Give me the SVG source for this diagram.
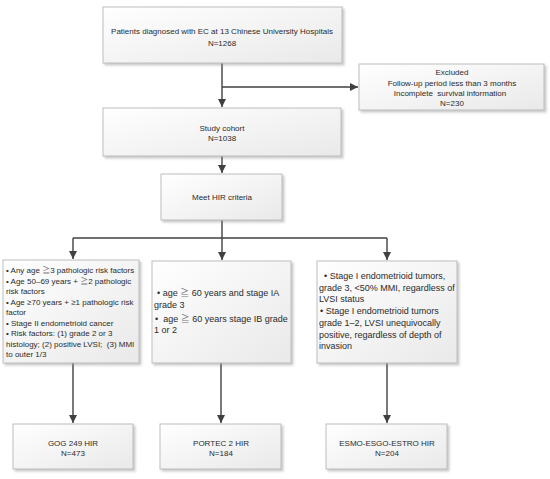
<svg xmlns="http://www.w3.org/2000/svg" width="550" height="479" viewBox="0 0 550 479">
<style>
.box{fill:url(#g);stroke:#bdbdbd;stroke-width:1;filter:url(#sh)}
text{font-family:"Liberation Sans","Noto Sans CJK SC",sans-serif;fill:#2b2b2b}
.c{text-anchor:middle;font-size:8px}
.s8{font-size:8px}
.s9{font-size:9px}
.gq{fill:#777777}
.ln{fill:none;stroke:#404040;stroke-width:1.4}
.ar{marker-end:url(#ah)}
</style>
<defs>
<linearGradient id="g" x1="0" y1="0" x2="1" y2="1">
<stop offset="0" stop-color="#ffffff"/>
<stop offset="1" stop-color="#e9e9e9"/>
</linearGradient>
<filter id="sh" x="-10%" y="-10%" width="130%" height="140%">
<feDropShadow dx="2" dy="2" stdDeviation="1.2" flood-color="#8a8a8a" flood-opacity="0.45"/>
</filter>
<marker id="ah" markerUnits="userSpaceOnUse" markerWidth="10" markerHeight="10" refX="8" refY="4" orient="auto">
<path d="M0,0 L8,4 L0,8 Z" fill="#404040"/>
</marker>
</defs>

<g id="connectors">
<path class="ln ar" d="M222,63 V107"/>
<path class="ln ar" d="M222,87 H358"/>
<path class="ln ar" d="M222,156 V173"/>
<path class="ln" d="M222,220 V238"/>
<path class="ln" d="M73,238 H387"/>
<path class="ln ar" d="M73,238 V259"/>
<path class="ln ar" d="M222,238 V260"/>
<path class="ln ar" d="M387,238 V260"/>
<path class="ln ar" d="M73,363 V423"/>
<path class="ln ar" d="M221,363 V423"/>
<path class="ln ar" d="M387,363 V423"/>
</g>

<g id="patients">
<rect class="box" x="103" y="7" width="239" height="56"/>
<text class="c" x="222" y="34">Patients diagnosed with EC at 13 Chinese University Hospitals</text>
<text class="c" x="222" y="46">N=1268</text>
</g>

<g id="excluded">
<rect class="box" x="359" y="64" width="185" height="46"/>
<text class="c" x="452" y="75">Excluded</text>
<text class="c" x="452" y="86">Follow-up period less than 3 months</text>
<text class="c" x="450" y="96" xml:space="preserve">Incomplete  survival information</text>
<text class="c" x="452" y="106">N=230</text>
</g>

<g id="cohort">
<rect class="box" x="103" y="108" width="238" height="48"/>
<text class="c" x="222" y="131">Study cohort</text>
<text class="c" x="222" y="141">N=1038</text>
</g>

<g id="hir">
<rect class="box" x="161" y="174" width="121" height="46"/>
<text class="c" x="222" y="200">Meet HIR criteria</text>
</g>

<g id="gog-criteria">
<rect class="box" x="3" y="260" width="136" height="103"/>
<text class="s8" x="6" y="273">• Any age <tspan class="gq">≧</tspan>3 pathologic risk factors</text>
<text class="s8" x="6" y="283.5">• Age 50–69 years + <tspan class="gq">≧</tspan>2 pathologic</text>
<text class="s8" x="6" y="294">risk factors</text>
<text class="s8" x="6" y="304.5">• Age ≥70 years + ≥1 pathologic risk</text>
<text class="s8" x="6" y="315">factor</text>
<text class="s8" x="6" y="325.5">• Stage II endometrioid cancer</text>
<text class="s8" x="6" y="336">• Risk factors: (1) grade 2 or 3</text>
<text class="s8" x="6" y="346.5" xml:space="preserve">histology; (2) positive LVSI;  (3) MMI</text>
<text class="s8" x="6" y="357">to outer 1/3</text>
</g>

<g id="portec-criteria">
<rect class="box" x="152" y="261" width="139" height="102"/>
<text class="s9" x="157" y="296">• age <tspan class="gq">≧</tspan> 60 years and stage IA</text>
<text class="s9" x="154" y="308">grade 3</text>
<text class="s9" x="155" y="322" xml:space="preserve">•  age <tspan class="gq">≧</tspan> 60 years stage IB grade</text>
<text class="s9" x="154" y="333">1 or 2</text>
</g>

<g id="esmo-criteria">
<rect class="box" x="317" y="261" width="140" height="102"/>
<text class="s9" x="324" y="279">• Stage I endometrioid tumors,</text>
<text class="s9" x="319" y="290.7">grade 3, &lt;50% MMI, regardless of</text>
<text class="s9" x="319" y="302.4">LVSI status</text>
<text class="s9" x="320" y="314">• Stage I endometrioid tumors</text>
<text class="s9" x="319" y="325.8">grade 1–2, LVSI unequivocally</text>
<text class="s9" x="319" y="337.5">positive, regardless of depth of</text>
<text class="s9" x="319" y="349.2">invasion</text>
</g>

<g id="gog">
<rect class="box" x="13" y="424" width="120" height="45"/>
<text class="c" x="73" y="446">GOG 249 HIR</text>
<text class="c" x="73" y="456">N=473</text>
</g>

<g id="portec">
<rect class="box" x="160" y="424" width="121" height="45"/>
<text class="c" x="221" y="446">PORTEC 2 HIR</text>
<text class="c" x="221" y="456">N=184</text>
</g>

<g id="esmo">
<rect class="box" x="326" y="424" width="121" height="45"/>
<text class="c" x="387" y="446">ESMO-ESGO-ESTRO HIR</text>
<text class="c" x="387" y="456">N=204</text>
</g>
</svg>
